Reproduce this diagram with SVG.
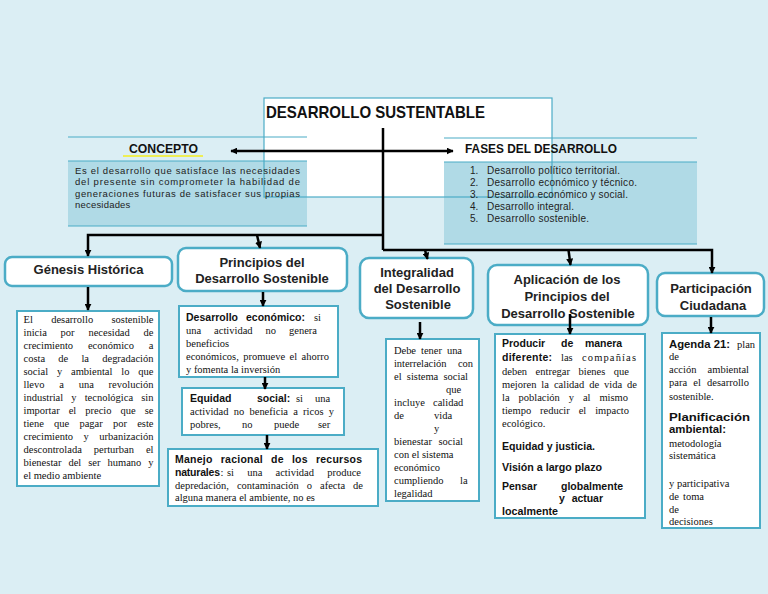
<svg xmlns="http://www.w3.org/2000/svg" width="768" height="594" viewBox="0 0 768 594">
<defs>
<style>
.hd{font-family:"Liberation Sans",Arial,sans-serif;font-weight:bold;font-size:13px;fill:#222;text-anchor:middle}
.ttl{font-family:"Liberation Sans",Arial,sans-serif;font-weight:bold;fill:#111}
.sr{font-family:"Liberation Serif","Times New Roman",serif;font-size:10.5px;fill:#111}
.bd{font-family:"Liberation Sans",Arial,sans-serif;font-weight:bold;font-size:10.5px;fill:#111}
.cp{font-family:"Liberation Sans",Arial,sans-serif;font-size:9.5px;fill:#222}
.fl{font-family:"Liberation Sans",Arial,sans-serif;font-size:10px;fill:#222}
.nd{fill:#fff;stroke:#4BACC6;stroke-width:2.5}
.bx{fill:#fff;stroke:#4BACC6;stroke-width:2}
.band{fill:#4BACC6;fill-opacity:0.3}
.ln{stroke:#4BACC6;stroke-width:1.2;fill:none}
.cn{fill:none;stroke:#000;stroke-width:2.5}
</style>
<marker id="ah" viewBox="0 0 10 10" refX="9" refY="5" markerWidth="7" markerHeight="7" markerUnits="userSpaceOnUse" orient="auto-start-reverse">
<path d="M0,0 L10,5 L0,10 z" fill="#000"/>
</marker>
</defs>
<rect width="768" height="594" fill="#DBEEF4"/>

<g id="titulo">
<path d="M264,98 H552 V162 H444 V197 H307 V161 H264 Z" fill="#fff"/>
<rect x="264" y="98" width="288" height="99" class="ln" stroke-width="1.5"/>
<text x="266" y="118" class="ttl" font-size="17" textLength="219" lengthAdjust="spacingAndGlyphs">DESARROLLO SUSTENTABLE</text>
</g>

<g id="concepto">
<line x1="68" y1="137" x2="307" y2="137" class="ln"/>
<rect x="68" y="161" width="239" height="65" class="band"/>
<line x1="68" y1="161" x2="307" y2="161" class="ln"/>
<line x1="68" y1="226" x2="307" y2="226" class="ln"/>
<text x="129" y="153" class="ttl" font-size="13" textLength="69" lengthAdjust="spacingAndGlyphs">CONCEPTO</text>
<line x1="123" y1="156" x2="203" y2="156" stroke="#EEEE55" stroke-width="2"/>
<text x="75" y="174" class="cp" textLength="225" lengthAdjust="spacing">Es el desarrollo que satisface las  necesidades</text>
<text x="75" y="185" class="cp" textLength="225" lengthAdjust="spacing">del presente sin comprometer  la habilidad de</text>
<text x="75" y="196.5" class="cp" textLength="225" lengthAdjust="spacing">generaciones futuras de  satisfacer sus propias</text>
<text x="75" y="208" class="cp" letter-spacing="0.2">necesidades</text>
</g>

<g id="fases">
<line x1="444" y1="138" x2="697" y2="138" class="ln"/>
<rect x="444" y="162" width="253" height="82" class="band"/>
<line x1="444" y1="162" x2="697" y2="162" class="ln"/>
<line x1="444" y1="244" x2="697" y2="244" class="ln"/>
<text x="465" y="153" class="ttl" font-size="13" textLength="152" lengthAdjust="spacingAndGlyphs">FASES DEL DESARROLLO</text>
<text x="470" y="174" class="fl">1.</text><text x="487" y="174" class="fl" textLength="133" lengthAdjust="spacing">Desarrollo político territorial.</text>
<text x="470" y="186" class="fl">2.</text><text x="487" y="186" class="fl" textLength="150" lengthAdjust="spacing">Desarrollo económico y técnico.</text>
<text x="470" y="198" class="fl">3.</text><text x="487" y="198" class="fl" textLength="141" lengthAdjust="spacing">Desarrollo económico y social.</text>
<text x="470" y="210" class="fl">4.</text><text x="487" y="210" class="fl" textLength="87" lengthAdjust="spacing">Desarrollo integral.</text>
<text x="470" y="222" class="fl">5.</text><text x="487" y="222" class="fl" textLength="102" lengthAdjust="spacing">Desarrollo sostenible.</text>
</g>

<g id="genesis">
<rect x="5" y="257" width="167" height="29" rx="7" class="nd"/>
<text x="88.5" y="274" class="hd">Génesis Histórica</text>
</g>

<g id="principios">
<rect x="178" y="248" width="169" height="43" rx="8" class="nd"/>
<text x="262" y="267" class="hd">Principios del</text>
<text x="262" y="283" class="hd">Desarrollo Sostenible</text>
</g>

<g id="integralidad">
<rect x="360" y="258" width="113" height="60" rx="9" class="nd"/>
<text x="417" y="277" class="hd">Integralidad</text>
<text x="417" y="293" class="hd">del Desarrollo</text>
<text x="418" y="309" class="hd">Sostenible</text>
</g>

<g id="aplicacion">
<rect x="488" y="265" width="160" height="60" rx="9" class="nd"/>
<text x="567" y="284" class="hd">Aplicación de los</text>
<text x="567" y="301" class="hd">Principios del</text>
<text x="568" y="318" class="hd">Desarrollo Sostenible</text>
</g>

<g id="participacion">
<rect x="657" y="273" width="107" height="43" rx="8" class="nd"/>
<text x="711" y="293" class="hd">Participación</text>
<text x="713" y="310" class="hd">Ciudadana</text>
</g>

<g id="genesis-texto">
<rect x="17" y="311" width="142" height="175" class="bx"/>
<text x="23.5" y="323" class="sr" word-spacing="15.7" textLength="130" lengthAdjust="spacing">El desarrollo sostenible</text>
<text x="23.5" y="336" class="sr" word-spacing="11.2" textLength="130" lengthAdjust="spacing">inicia por necesidad de</text>
<text x="23.5" y="349" class="sr" word-spacing="12.2" textLength="130" lengthAdjust="spacing">crecimiento económico a</text>
<text x="23.5" y="362" class="sr" word-spacing="10.6" textLength="130" lengthAdjust="spacing">costa de la degradación</text>
<text x="23.5" y="375" class="sr" word-spacing="6.2" textLength="130" lengthAdjust="spacing">social y ambiental lo que</text>
<text x="23.5" y="388" class="sr" word-spacing="12.1" textLength="130" lengthAdjust="spacing">llevo a una revolución</text>
<text x="23.5" y="401" class="sr" word-spacing="5.5" textLength="130" lengthAdjust="spacing">industrial y tecnológica sin</text>
<text x="23.5" y="414" class="sr" word-spacing="6.4" textLength="130" lengthAdjust="spacing">importar el precio que se</text>
<text x="23.5" y="427" class="sr" word-spacing="7.6" textLength="130" lengthAdjust="spacing">tiene que pagar por este</text>
<text x="23.5" y="440" class="sr" word-spacing="7.8" textLength="130" lengthAdjust="spacing">crecimiento y urbanización</text>
<text x="23.5" y="453" class="sr" word-spacing="9.3" textLength="130" lengthAdjust="spacing">descontrolada perturban el</text>
<text x="23.5" y="466" class="sr" word-spacing="4.3" textLength="130" lengthAdjust="spacing">bienestar del ser humano y</text>
<text x="23.5" y="479" class="sr">el medio ambiente</text>
</g>

<g id="desarrollo-economico">
<rect x="179" y="306" width="159" height="71" class="bx"/>
<text x="186" y="321" class="bd" word-spacing="5" textLength="119" lengthAdjust="spacing">Desarrollo económico:</text>
<text x="314" y="321" class="sr">si</text>
<text x="186" y="334" class="sr" word-spacing="10.3" textLength="131" lengthAdjust="spacing">una actividad no genera</text>
<text x="186" y="347" class="sr">beneficios</text>
<text x="186" y="360" class="sr" word-spacing="1.8" textLength="143" lengthAdjust="spacing">económicos, promueve el ahorro</text>
<text x="186" y="373" class="sr">y fomenta la inversión</text>
</g>

<g id="equidad-social">
<rect x="182" y="388" width="162" height="47" class="bx"/>
<text x="190" y="402" class="bd">Equidad</text>
<text x="257" y="402" class="bd">social:</text>
<text x="296" y="402" class="sr">si</text>
<text x="315" y="402" class="sr">una</text>
<text x="190" y="415" class="sr" word-spacing="2.6" textLength="144" lengthAdjust="spacing">actividad no beneficia a ricos y</text>
<text x="190" y="428" class="sr">pobres,</text>
<text x="242" y="428" class="sr">no</text>
<text x="274" y="428" class="sr">puede</text>
<text x="318" y="428" class="sr">ser</text>
</g>

<g id="manejo-recursos">
<rect x="168" y="449" width="210" height="57" class="bx"/>
<text x="175" y="463" class="bd" font-size="11" word-spacing="4.9" textLength="187" lengthAdjust="spacing">Manejo racional de los recursos</text>
<text x="175" y="476" class="bd" font-size="11" textLength="45" lengthAdjust="spacing">naturales</text>
<text x="220.5" y="476" class="sr">:</text>
<text x="227" y="476" class="sr" word-spacing="10.5" textLength="134" lengthAdjust="spacing">si una actividad produce</text>
<text x="175" y="488.5" class="sr" word-spacing="5.4" textLength="188" lengthAdjust="spacing">depredación, contaminación o afecta de</text>
<text x="175" y="501" class="sr">alguna manera el ambiente, no es</text>
</g>

<g id="integralidad-texto">
<rect x="386" y="339" width="93" height="162" class="bx"/>
<text x="394" y="354" class="sr" word-spacing="2.5" textLength="68" lengthAdjust="spacing">Debe tener una</text>
<text x="394" y="367" class="sr" word-spacing="9" textLength="79" lengthAdjust="spacing">interrelación con</text>
<text x="394" y="380" class="sr" word-spacing="2.6" textLength="74" lengthAdjust="spacing">el sistema social</text>
<text x="446" y="393" class="sr">que</text>
<text x="394" y="405.5" class="sr">incluye</text>
<text x="433" y="405.5" class="sr">calidad</text>
<text x="394" y="418.5" class="sr">de</text>
<text x="434" y="418.5" class="sr">vida</text>
<text x="434" y="432" class="sr">y</text>
<text x="394" y="445" class="sr" word-spacing="4" textLength="69" lengthAdjust="spacing">bienestar social</text>
<text x="394" y="458" class="sr">con el sistema</text>
<text x="394" y="471" class="sr">económico</text>
<text x="394" y="484" class="sr">cumpliendo</text>
<text x="460" y="484" class="sr">la</text>
<text x="394" y="497" class="sr">legalidad</text>
</g>

<g id="aplicacion-texto">
<rect x="495" y="334" width="150" height="184" class="bx"/>
<text x="502" y="347" class="bd" font-size="11">Producir</text>
<text x="561" y="347" class="bd" font-size="11">de</text>
<text x="585" y="347" class="bd" font-size="11" textLength="37" lengthAdjust="spacing">manera</text>
<text x="502" y="361" class="bd" font-size="11" textLength="50" lengthAdjust="spacing">diferente:</text>
<text x="561" y="361" class="sr">las</text>
<text x="582" y="361" class="sr" textLength="54" lengthAdjust="spacing">compañías</text>
<text x="502" y="375" class="sr" word-spacing="5.9" textLength="127" lengthAdjust="spacing">deben entregar bienes que</text>
<text x="502" y="388" class="sr" word-spacing="2.3" textLength="135" lengthAdjust="spacing">mejoren la calidad de vida de</text>
<text x="502" y="401" class="sr" word-spacing="6.3" textLength="126" lengthAdjust="spacing">la población y al mismo</text>
<text x="502" y="414" class="sr" word-spacing="6.3" textLength="127" lengthAdjust="spacing">tiempo reducir el impacto</text>
<text x="502" y="427" class="sr">ecológico.</text>
<text x="502" y="449.5" class="bd" textLength="93" lengthAdjust="spacingAndGlyphs">Equidad y justicia.</text>
<text x="502" y="470.5" class="bd" textLength="100" lengthAdjust="spacingAndGlyphs">Visión a largo plazo</text>
<text x="502" y="489.5" class="bd" textLength="35" lengthAdjust="spacingAndGlyphs">Pensar</text>
<text x="561" y="489.5" class="bd" textLength="62" lengthAdjust="spacingAndGlyphs">globalmente</text>
<text x="559" y="502" class="bd" word-spacing="4" textLength="44" lengthAdjust="spacing">y actuar</text>
<text x="502" y="514.5" class="bd" textLength="56" lengthAdjust="spacingAndGlyphs">localmente</text>
</g>

<g id="participacion-texto">
<rect x="662" y="333" width="98" height="195" class="bx"/>
<text x="669" y="348" class="bd" textLength="61" lengthAdjust="spacingAndGlyphs">Agenda 21:</text>
<text x="737" y="348" class="sr">plan</text>
<text x="669" y="360" class="sr">de</text>
<text x="669" y="373" class="sr" word-spacing="8.6" textLength="80" lengthAdjust="spacing">acción ambiental</text>
<text x="669" y="386" class="sr" word-spacing="3.5" textLength="80" lengthAdjust="spacing">para el desarrollo</text>
<text x="669" y="400" class="sr">sostenible.</text>
<text x="669" y="421" class="bd" textLength="81" lengthAdjust="spacingAndGlyphs">Planificación</text>
<text x="669" y="433" class="bd" textLength="57" lengthAdjust="spacingAndGlyphs">ambiental:</text>
<text x="669" y="447" class="sr">metodología</text>
<text x="669" y="459" class="sr">sistemática</text>
<text x="669" y="487" class="sr">y participativa</text>
<text x="669" y="500" class="sr">de</text>
<text x="683" y="500" class="sr">toma</text>
<text x="669" y="512.5" class="sr">de</text>
<text x="669" y="525" class="sr">decisiones</text>
</g>

<g id="conectores">
<path d="M383,128 V250" class="cn"/>
<path d="M231,151 H453" class="cn" stroke-width="2" marker-start="url(#ah)" marker-end="url(#ah)"/>
<path d="M383,235 H88 V256" class="cn" marker-end="url(#ah)"/>
<path d="M257,235 L260,248" class="cn" marker-end="url(#ah)"/>
<path d="M383,250 H712 V273" class="cn" marker-end="url(#ah)"/>
<path d="M425,250 L427.5,259" class="cn" marker-end="url(#ah)"/>
<path d="M568.5,250 L570.5,265" class="cn" marker-end="url(#ah)"/>
<path d="M88,287 V310" class="cn" marker-end="url(#ah)"/>
<path d="M263,292 V306" class="cn" marker-end="url(#ah)"/>
<path d="M420,322 V339" class="cn" marker-end="url(#ah)"/>
<path d="M570,314 V334" class="cn" marker-end="url(#ah)"/>
<path d="M711,317 V333" class="cn" marker-end="url(#ah)"/>
<path d="M265,377 V389" class="cn" marker-end="url(#ah)"/>
<path d="M267,435 V449" class="cn" marker-end="url(#ah)"/>
</g>
</svg>
